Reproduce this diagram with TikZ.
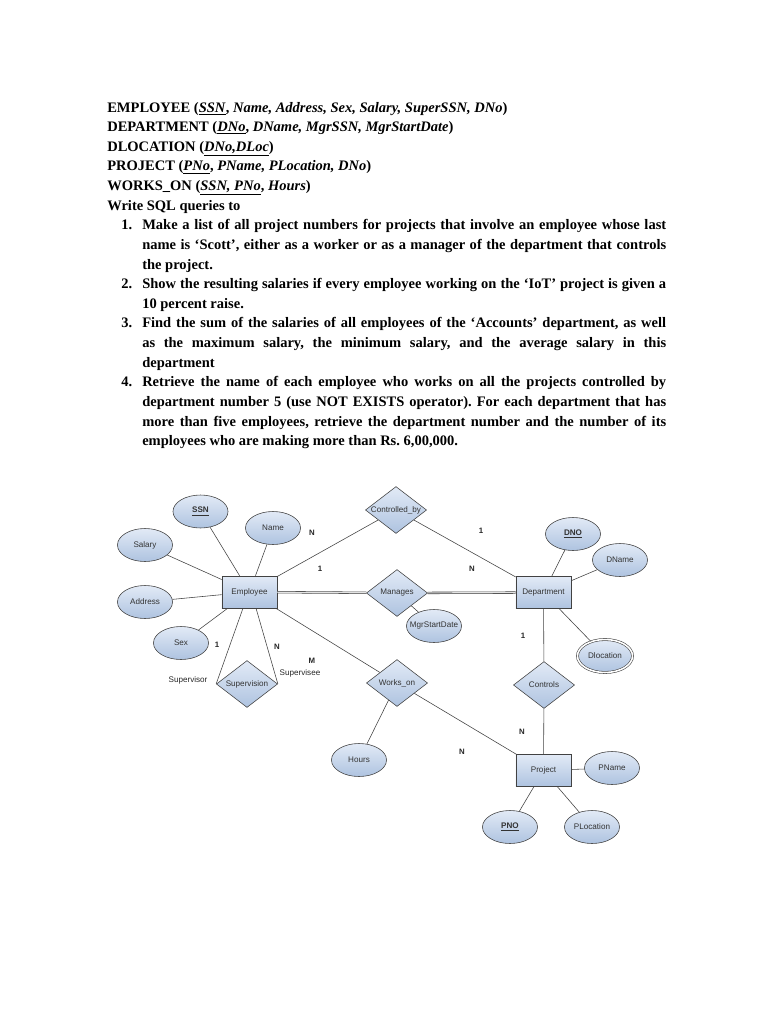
\documentclass[tikz,border=0pt]{standalone}
\usepackage{fontspec}
\setmainfont{Liberation Serif}
\newfontfamily\erfont{Liberation Sans}
\usetikzlibrary{shapes.geometric}

\definecolor{erTop}{HTML}{E2EAF6}
\definecolor{erBot}{HTML}{AEC3E0}
\definecolor{erLine}{HTML}{424242}

\begin{document}
\begin{tikzpicture}[
	x=0.703125pt, y=-0.703125pt,
	e/.style = {rectangle, draw=erLine, top color=erTop, bottom color=erBot, minimum width=38.7pt, minimum height=22.5pt, inner sep=0, text=black!80, font=\erfont\fontsize{5.7}{6}\selectfont},
	r/.style = {diamond, draw=erLine, top color=erTop, bottom color=erBot, minimum width=43pt, minimum height=33pt, inner sep=0, label={center:#1}},
	a/.style = {ellipse, draw=erLine, top color=erTop, bottom color=erBot, minimum width=38.7pt, minimum height=23.2pt, inner sep=0, label={center:#1}},
	k/.style = {a={\textbf{\underline{#1}}}},
	l/.style = {draw=erLine, line width=0.4pt},
	c/.style = {text=black!85, inner sep=0, font=\erfont\bfseries\fontsize{5.5}{6}\selectfont},
	every label/.style = {inner sep=0, text=black!80, font=\erfont\fontsize{5.7}{6}\selectfont}
	]
	\useasboundingbox (0,0) rectangle (768,1024);
	
	%Text
	\node[text width=393pt, align=justify, inner sep=0, anchor=base west, font=\bfseries\fontsize{10.2}{13.8}\selectfont] (task) at (107,112) {%
		\parindent=0pt\frenchspacing
		EMPLOYEE (\underline{\textit{SSN}}, \textit{Name, Address, Sex, Salary, SuperSSN, DNo})\par
		DEPARTMENT (\underline{\textit{DNo}}, \textit{DName, MgrSSN, MgrStartDate})\par
		DLOCATION (\underline{\textit{DNo,DLoc}})\par
		PROJECT (\underline{\textit{PNo}}, \textit{PName, PLocation, DNo})\par
		WORKS\_ON (\underline{\textit{SSN, PNo}}, \textit{Hours})\par
		Write SQL queries to\par
		\leftskip=24.6pt
		\leavevmode\llap{1.\hspace{7pt}}Make a list of all project numbers for projects that involve an employee whose last\linebreak name is `Scott', either as a worker or as a manager of the department that controls\linebreak the project.\par
		\leavevmode\llap{2.\hspace{7pt}}Show the resulting salaries if every employee working on the `IoT' project is given a\linebreak 10 percent raise.\par
		\leavevmode\llap{3.\hspace{7pt}}Find the sum of the salaries of all employees of the `Accounts' department, as well\linebreak as the maximum salary, the minimum salary, and the average salary in this\linebreak department\par
		\leavevmode\llap{4.\hspace{7pt}}Retrieve the name of each employee who works on all the projects controlled by\linebreak department number 5 (use NOT EXISTS operator). For each department that has\linebreak more than five employees, retrieve the department number and the number of its\linebreak employees who are making more than Rs. 6,00,000.\par};
	
	%Nodes
	\node[e]	(emp)	at	(249.5, 592)	{Employee};
	\node[e]	(dept)	at	(543.5, 592.5)	{Department};
	\node[e]	(proj)	at	(543.5, 770.5)	{Project};
	
	\node[r=Controlled\_by]	(cby)	at	(396, 510)	{};
	\node[r=Manages]		(man)	at	(397, 593)	{};
	\node[r=Works\_on]		(works)	at	(397, 683)	{};
	\node[r=Controls]		(ctrl)	at	(544, 685)	{};
	\node[r=Supervision]	(sup)	at	(247, 684)	{};
	
	\node[k=SSN]			(ssn)	at	(200.5, 511.5)	{};
	\node[a=Name]			(name)	at	(273, 528)		{};
	\node[a=Salary]			(sal)	at	(145, 545)		{};
	\node[a=Address]		(addr)	at	(145, 602)		{};
	\node[a=Sex]			(sex)	at	(181, 643)		{};
	\node[k=DNO]			(dno)	at	(573, 534)		{};
	\node[a=DName]			(dname)	at	(620, 560)		{};
	\node[a=MgrStartDate]	(msd)	at	(434, 626)		{};
	\node[a=Dlocation, double=white, double distance=1.1pt]	(dloc)	at	(605, 656)	{};
	\node[a=Hours]			(hrs)	at	(359, 760)		{};
	\node[a=PName]			(pname)	at	(612, 768)		{};
	\node[k=PNO]			(pno)	at	(510, 827)		{};
	\node[a=PLocation]		(ploc)	at	(592, 827)		{};
	
	\node[c]	(n1)	at	(312, 533)	{N};
	\node[c]	(n2)	at	(320, 569)	{1};
	\node[c]	(n3)	at	(481, 531)	{1};
	\node[c]	(n4)	at	(472, 569)	{N};
	\node[c]	(n5)	at	(523, 636)	{1};
	\node[c]	(n6)	at	(522, 732)	{N};
	\node[c]	(n7)	at	(462, 752)	{N};
	\node[c]	(n8)	at	(217, 645)	{1};
	\node[c]	(n9)	at	(277, 647)	{N};
	\node[c]	(n10)	at	(312, 661)	{M};
	\node[c, font=\erfont\fontsize{5.7}{6}\selectfont]	(svee)	at	(300, 673)	{Supervisee};
	\node[c, font=\erfont\fontsize{5.7}{6}\selectfont]	(svor)	at	(188, 680)	{Supervisor};
	
	%Lines
	\draw[l]	(ssn)	--	(emp);
	\draw[l]	(name)	--	(emp);
	\draw[l]	(sal)	--	(emp);
	\draw[l]	(addr)	--	(emp);
	\draw[l]	(sex)	--	(emp);
	\draw[l]	(emp)	--	(cby);
	\draw[l]	(cby)	--	(dept);
	\draw[l, double=white!85!erLine, double distance=0.8pt]	(emp)	--	(man);
	\draw[l, double=white!85!erLine, double distance=0.8pt]	(man)	--	(dept);
	\draw[l]	(man)	--	(msd);
	\draw[l]	(emp)	--	(works);
	\draw[l]	(works)	--	(hrs);
	\draw[l]	(works)	--	(proj);
	\draw[l]	([xshift=-4.6pt]emp.south)	--	(sup.west);
	\draw[l]	([xshift=4.6pt]emp.south)	--	(sup.east);
	\draw[l]	(dept)	--	(dno);
	\draw[l]	(dept)	--	(dname);
	\draw[l]	(dept)	--	(dloc);
	\draw[l]	(dept)	--	(ctrl);
	\draw[l]	(ctrl)	--	(proj);
	\draw[l]	(proj)	--	(pname);
	\draw[l]	(proj)	--	(pno);
	\draw[l]	(proj)	--	(ploc);
\end{tikzpicture}
\end{document}
